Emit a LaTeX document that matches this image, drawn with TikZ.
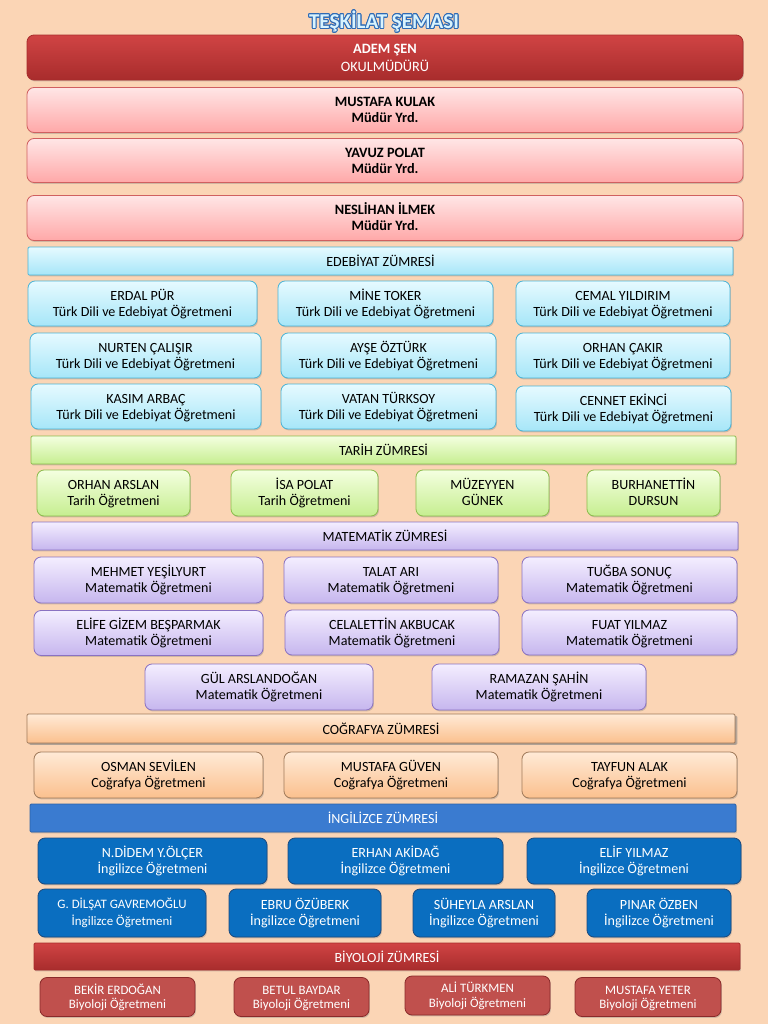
\documentclass[tikz,border=0pt]{standalone}
\usepackage{fontspec}
\setmainfont{Carlito}
\usepackage{contour}
\usetikzlibrary{shadows}

\definecolor{bgpeach}{HTML}{FBD5B5}
\definecolor{titleblue}{HTML}{2E6BB5}
\definecolor{chiefTop}{HTML}{D04444}
\definecolor{chiefBot}{HTML}{A82C2C}
\definecolor{vpTop}{HTML}{FFE6E6}
\definecolor{vpBot}{HTML}{FFA8A8}
\definecolor{vpLine}{HTML}{D06060}
\definecolor{edbTop}{HTML}{E6FAFF}
\definecolor{edbBot}{HTML}{A6E6F8}
\definecolor{edbLine}{HTML}{4BB4D6}
\definecolor{trhTop}{HTML}{F4FFE0}
\definecolor{trhBot}{HTML}{C6EE90}
\definecolor{trhLine}{HTML}{8CBC4C}
\definecolor{matTop}{HTML}{F4EEFF}
\definecolor{matBot}{HTML}{C6B6EE}
\definecolor{matLine}{HTML}{8A72C2}
\definecolor{cogTop}{HTML}{FFEAD6}
\definecolor{cogBot}{HTML}{FBC08E}
\definecolor{cogLine}{HTML}{A07A5A}
\definecolor{ingBand}{HTML}{3A7BD0}
\definecolor{ingBox}{HTML}{0A6EC0}
\definecolor{ingLine}{HTML}{1C4A7E}
\definecolor{bioBox}{HTML}{C0504D}
\definecolor{bioLine}{HTML}{8A2A2A}

\contourlength{0.8pt}

\tikzset{boxsize/.style 2 args={minimum width=#1*0.03cm, minimum height=#2*0.03cm}}
% two text lines with even top and bottom
\newcommand{\member}[2]{\rule{0pt}{0.95em}#1\\#2\rule[-0.28em]{0pt}{0.28em}}

\begin{document}
\lineskiplimit=-16000pt
\begin{tikzpicture}[
                    x=0.03cm, y=-0.03cm,
                    card/.style={rectangle, draw, line width=0.7pt, rounded corners=6pt, align=center, inner sep=0pt,
                                 font=\fontsize{12}{13.6}\selectfont,
                                 drop shadow={shadow xshift=0.8pt, shadow yshift=-1.2pt, opacity=0.35}},
                    band/.style={card, rounded corners=1pt},
                    chief/.style={card, top color=chiefTop, bottom color=chiefBot, draw=chiefBot, text=white,
                                  font=\fontsize{12.2}{15.3}\selectfont},
                    vice/.style={card, top color=vpTop, bottom color=vpBot, draw=vpLine,
                                 font=\bfseries\fontsize{12.2}{13.6}\selectfont},
                    edb/.style={top color=edbTop, bottom color=edbBot, draw=edbLine},
                    trh/.style={top color=trhTop, bottom color=trhBot, draw=trhLine},
                    mat/.style={top color=matTop, bottom color=matBot, draw=matLine},
                    cog/.style={top color=cogTop, bottom color=cogBot, draw=cogLine},
                    ing/.style={fill=ingBox, draw=ingLine, text=white},
                    bio/.style={fill=bioBox, draw=bioLine, text=white, font=\fontsize{11}{12.4}\selectfont}
                ]
    \fill[bgpeach] (0,0) rectangle (768,1024);
    \useasboundingbox (0,0) rectangle (768,1024);

    % Title
    \node (title) at (384,22) {\fontsize{18}{20}\selectfont\bfseries\contour{titleblue}{\textcolor{white!85!cyan}{TEŞKİLAT ŞEMASI}}};

    % Management
    \node [chief, boxsize={716}{45}] (mudur) at (385,57.5) {\member{\textbf{ADEM ŞEN}}{OKULMÜDÜRÜ}};
    \node [vice, boxsize={716}{45}] (yrd1) at (385,110) {\member{MUSTAFA KULAK}{Müdür Yrd.}};
    \node [vice, boxsize={716}{44}] (yrd2) at (385,160.5) {\member{YAVUZ POLAT}{Müdür Yrd.}};
    \node [vice, boxsize={716}{45}] (yrd3) at (385,218) {\member{NESLİHAN İLMEK}{Müdür Yrd.}};

    % Edebiyat
    \node [band, edb, boxsize={705}{28}] (edebiyat) at (380.5,261) {EDEBİYAT ZÜMRESİ};
    \node [card, edb, boxsize={229}{45}] (edb1) at (142.5,303.5) {\member{ERDAL PÜR}{Türk Dili ve Edebiyat Öğretmeni}};
    \node [card, edb, boxsize={215}{45}] (edb2) at (385.5,303.5) {\member{MİNE TOKER}{Türk Dili ve Edebiyat Öğretmeni}};
    \node [card, edb, boxsize={214}{45}] (edb3) at (623,303.5) {\member{CEMAL YILDIRIM}{Türk Dili ve Edebiyat Öğretmeni}};
    \node [card, edb, boxsize={231}{45}] (edb4) at (145.5,355.5) {\member{NURTEN ÇALIŞIR}{Türk Dili ve Edebiyat Öğretmeni}};
    \node [card, edb, boxsize={215}{45}] (edb5) at (388.5,355.5) {\member{AYŞE ÖZTÜRK}{Türk Dili ve Edebiyat Öğretmeni}};
    \node [card, edb, boxsize={214}{45}] (edb6) at (623,355.5) {\member{ORHAN ÇAKIR}{Türk Dili ve Edebiyat Öğretmeni}};
    \node [card, edb, boxsize={230}{45}] (edb7) at (146,406.5) {\member{KASIM ARBAÇ}{Türk Dili ve Edebiyat Öğretmeni}};
    \node [card, edb, boxsize={215}{45}] (edb8) at (388.5,406.5) {\member{VATAN TÜRKSOY}{Türk Dili ve Edebiyat Öğretmeni}};
    \node [card, edb, boxsize={215}{45}] (edb9) at (623.5,408.5) {\member{CENNET EKİNCİ}{Türk Dili ve Edebiyat Öğretmeni}};

    % Tarih
    \node [band, trh, boxsize={705}{28}] (tarih) at (383.5,450) {TARİH ZÜMRESİ};
    \node [card, trh, boxsize={153}{46}] (trh1) at (113.5,493) {\member{ORHAN ARSLAN}{Tarih Öğretmeni}};
    \node [card, trh, boxsize={147}{46}] (trh2) at (304.5,493) {\member{İSA POLAT}{Tarih Öğretmeni}};
    \node [card, trh, boxsize={133}{46}] (trh3) at (482.5,493) {\member{MÜZEYYEN}{GÜNEK}};
    \node [card, trh, boxsize={133}{46}] (trh4) at (653.5,493) {\member{BURHANETTİN}{DURSUN}};

    % Matematik
    \node [band, mat, boxsize={706}{28}] (matematik) at (385,536) {MATEMATİK ZÜMRESİ};
    \node [card, mat, boxsize={229}{46}] (mat1) at (148.5,580) {\member{MEHMET YEŞİLYURT}{Matematik Öğretmeni}};
    \node [card, mat, boxsize={214}{46}] (mat2) at (391,580) {\member{TALAT ARI}{Matematik Öğretmeni}};
    \node [card, mat, boxsize={215}{46}] (mat3) at (629.5,580) {\member{TUĞBA SONUÇ}{Matematik Öğretmeni}};
    \node [card, mat, boxsize={229}{45}] (mat4) at (148.5,633) {\member{ELİFE GİZEM BEŞPARMAK}{\rule{0pt}{1.25em}Matematik Öğretmeni}};
    \node [card, mat, boxsize={214}{45}] (mat5) at (392,632.5) {\member{CELALETTİN AKBUCAK}{Matematik Öğretmeni}};
    \node [card, mat, boxsize={215}{45}] (mat6) at (629.5,632.5) {\member{FUAT YILMAZ}{Matematik Öğretmeni}};
    \node [card, mat, boxsize={228}{46}] (mat7) at (259,687) {\member{GÜL ARSLANDOĞAN}{Matematik Öğretmeni}};
    \node [card, mat, boxsize={214}{46}] (mat8) at (539,687) {\member{RAMAZAN ŞAHİN}{Matematik Öğretmeni}};

    % Cografya
    \node [band, cog, boxsize={708}{29}, drop shadow={shadow xshift=2pt, shadow yshift=-1.5pt, opacity=0.55}] (cografya) at (381,728.5) {COĞRAFYA ZÜMRESİ};
    \node [card, cog, boxsize={229}{46}] (cog1) at (148.5,775) {\member{OSMAN SEVİLEN}{Coğrafya Öğretmeni}};
    \node [card, cog, boxsize={214}{46}] (cog2) at (391,775) {\member{MUSTAFA GÜVEN}{Coğrafya Öğretmeni}};
    \node [card, cog, boxsize={215}{46}] (cog3) at (629.5,775) {\member{TAYFUN ALAK}{Coğrafya Öğretmeni}};

    % Ingilizce
    \node [band, fill=ingBand, draw=ingBand!80!black, text=white, boxsize={706}{28}] (ingilizce) at (383,818) {İNGİLİZCE ZÜMRESİ};
    \node [card, ing, boxsize={229}{46}] (ing1) at (152.5,861) {\member{N.DİDEM Y.ÖLÇER}{İngilizce Öğretmeni}};
    \node [card, ing, boxsize={215}{46}] (ing2) at (395.5,861) {\member{ERHAN AKİDAĞ}{İngilizce Öğretmeni}};
    \node [card, ing, boxsize={214}{46}] (ing3) at (634,861) {\member{ELİF YILMAZ}{İngilizce Öğretmeni}};
    \node [card, ing, boxsize={168}{48}, font=\fontsize{11}{14.5}\selectfont] (ing4) at (122,913) {\member{G. DİLŞAT GAVREMOĞLU}{İngilizce Öğretmeni}};
    \node [card, ing, boxsize={152}{48}] (ing5) at (305,913) {\member{EBRU ÖZÜBERK}{İngilizce Öğretmeni}};
    \node [card, ing, boxsize={142}{48}] (ing6) at (484,913) {\member{SÜHEYLA ARSLAN}{İngilizce Öğretmeni}};
    \node [card, ing, boxsize={144}{48}] (ing7) at (659,913) {\member{PINAR ÖZBEN}{İngilizce Öğretmeni}};

    % Biyoloji
    \node [band, top color=chiefTop, bottom color=chiefBot, draw=chiefBot, text=white, boxsize={706}{27}] (biyoloji) at (387,956.5) {BİYOLOJİ ZÜMRESİ};
    \node [card, bio, boxsize={155}{39}] (bio1) at (117.5,997) {\member{BEKİR ERDOĞAN}{Biyoloji Öğretmeni}};
    \node [card, bio, boxsize={135}{39}] (bio2) at (301.5,997) {\member{BETUL BAYDAR}{Biyoloji Öğretmeni}};
    \node [card, bio, boxsize={145}{39}] (bio3) at (477.5,995.5) {\member{ALİ TÜRKMEN}{Biyoloji Öğretmeni}};
    \node [card, bio, boxsize={146}{39}] (bio4) at (648,997) {\member{MUSTAFA YETER}{Biyoloji Öğretmeni}};
\end{tikzpicture}
\end{document}
